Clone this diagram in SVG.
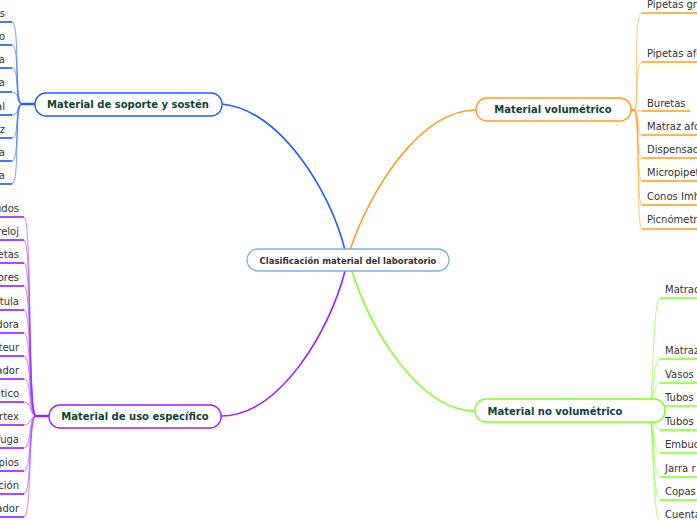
<svg xmlns="http://www.w3.org/2000/svg" width="697" height="520" viewBox="0 0 697 520">
<style>
text{font-family:"DejaVu Sans",Verdana,sans-serif;font-size:10px;fill:#333}
.t{font-weight:bold;fill:#0f4434;font-size:10px}
.n{fill:#fff;stroke-width:1.3}
.c{fill:none}
</style>
<rect width="697" height="520" fill="#fff"/>
<g id="connectors" class="c">
<path d="M345,250 C330,190 280,110 222,104" stroke="#1f5cff" stroke-width="1.6" fill="none"/>
<path d="M350,250 C370,190 420,110 476,110" stroke="#ff9c1a" stroke-width="1.6" fill="none"/>
<path d="M345,271 C330,330 280,416 221,416" stroke="#9b1fff" stroke-width="1.6" fill="none"/>
<path d="M352,271 C370,330 420,411 475,411" stroke="#7fff1f" stroke-width="1.6" fill="none"/>
<g stroke="#1f5cff" fill="none">
<path d="M35,104 H22" stroke-width="2.5"/>
<path d="M0,22 H12 C20,22 14,104 22,104 M0,45 H12 C20,45 14,104 22,104 M0,68 H12 C20,68 14,104 22,104 M0,92 H12 C20,92 16,104 22,104 M0,115 H12 C20,115 16,104 22,104 M0,138 H12 C20,138 14,104 22,104 M0,161 H12 C20,161 14,104 22,104 M0,184 H12 C20,184 14,104 22,104" stroke-opacity="0.6"/>
<path d="M0,22 H12 M0,45 H12 M0,68 H12 M0,92 H12 M0,115 H12 M0,138 H12 M0,161 H12 M0,184 H12" stroke-width="1.5"/>
</g>
<g stroke="#9b1fff" fill="none">
<path d="M49,416 H36" stroke-width="2.5"/>
<path d="M0,217 H24 C32,217 28,416 36,416 M0,240 H24 C32,240 28,416 36,416 M0,263 H24 C32,263 28,416 36,416 M0,286 H24 C32,286 28,416 36,416 M0,310 H24 C32,310 28,416 36,416 M0,333 H24 C32,333 28,416 36,416 M0,356 H24 C32,356 28,416 36,416 M0,379 H24 C32,379 28,416 36,416 M0,402 H24 C32,402 30,416 36,416 M0,425 H24 C32,425 30,416 36,416 M0,448 H24 C32,448 28,416 36,416 M0,471 H24 C32,471 28,416 36,416 M0,494 H24 C32,494 28,416 36,416 M0,517 H24 C32,517 28,416 36,416" stroke-opacity="0.55"/>
<path d="M0,217 H24 M0,240 H24 M0,263 H24 M0,286 H24 M0,310 H24 M0,333 H24 M0,356 H24 M0,379 H24 M0,402 H24 M0,425 H24 M0,448 H24 M0,471 H24 M0,494 H24 M0,517 H24" stroke-width="1.5"/>
</g>
<g stroke="#ff9c1a" fill="none">
<path d="M631,110 H634" stroke-width="2.5"/>
<path d="M634,110 C640,110 632,13 642,13 M634,110 C640,110 634,62 642,62 M634,110 C638,110 636,111 642,111 M634,110 C640,110 636,135 642,135 M634,110 C640,110 636,158 642,158 M634,110 C640,110 636,181 642,181 M634,110 C640,110 636,205 642,205 M634,110 C640,110 636,229 642,229" stroke-opacity="0.55"/>
<path d="M642,13 H697 M642,62 H697 M642,111 H690 M642,135 H697 M642,158 H697 M642,181 H697 M642,205 H697 M642,229 H697" stroke-width="1.5"/>
</g>
<g stroke="#7fff1f" fill="none">
<path d="M665,411 H648" stroke-width="2.5"/>
<path d="M648,411 C654,411 652,298 660,298 M648,411 C654,411 652,359 660,359 M648,411 C654,411 652,383 660,383 M648,411 C654,411 654,406 660,406 M648,411 C654,411 654,430 660,430 M648,411 C654,411 652,453 660,453 M648,411 C654,411 652,477 660,477 M648,411 C654,411 652,500 660,500 M648,411 C654,411 652,520 660,522" stroke-opacity="0.6"/>
<path d="M660,298 H697 M660,359 H697 M660,383 H697 M660,406 H697 M660,430 H697 M660,453 H697 M660,477 H697 M660,500 H697" stroke-width="1.5"/>
</g>
</g>
<g id="center"><rect class="n" x="247" y="249" width="202" height="22" rx="11" stroke="#7fb0e0" stroke-width="2"/><text x="348" y="264" text-anchor="middle" style="font-weight:bold;font-size:8.5px;fill:#333">Clasificación material del laboratorio</text></g>
<g id="soporte"><rect class="n" x="35" y="93" width="187" height="23" rx="11" stroke="#1f5cff"/><text class="t" x="128" y="108" text-anchor="middle">Material de soporte y sostén</text></g>
<g id="especifico"><rect class="n" x="49" y="405" width="172" height="23" rx="11" stroke="#9b1fff"/><text class="t" x="135" y="420" text-anchor="middle">Material de uso específico</text></g>
<g id="volumetrico"><rect class="n" x="476" y="98" width="155" height="23" rx="11" stroke="#ff9c1a"/><text class="t" x="553" y="113" text-anchor="middle">Material volumétrico</text></g>
<g id="novolumetrico"><rect class="n" x="475" y="399" width="190" height="23" rx="11" stroke="#7fff1f"/><text class="t" x="555" y="415" text-anchor="middle">Material no volumétrico</text></g>
<g id="soporte-leaves" text-anchor="end">
<text x="5" y="17">s</text><text x="5" y="40">o</text><text x="5" y="63">a</text><text x="5" y="86">a</text><text x="5" y="110">al</text><text x="5" y="133">z</text><text x="5" y="156">a</text><text x="5" y="179">a</text>
</g>
<g id="especifico-leaves" text-anchor="end">
<text x="19" y="212">udos</text><text x="19" y="235">reloj</text><text x="19" y="258">etas</text><text x="19" y="281">ores</text><text x="19" y="305">tula</text><text x="19" y="328">dora</text><text x="19" y="351">teur</text><text x="19" y="374">ador</text><text x="19" y="397">ético</text><text x="19" y="420">rtex</text><text x="19" y="443">fuga</text><text x="19" y="466">pios</text><text x="19" y="489">ción</text><text x="19" y="512">ador</text>
</g>
<g id="volumetrico-leaves">
<text x="647" y="8">Pipetas graduadas</text><text x="647" y="57">Pipetas aforadas</text><text x="647" y="107">Buretas</text><text x="647" y="130">Matraz aforado</text><text x="647" y="153">Dispensador</text><text x="647" y="176">Micropipetas</text><text x="647" y="200">Conos Imhoff</text><text x="647" y="223">Picnómetro</text>
</g>
<g id="novolumetrico-leaves">
<text x="665" y="293">Matraces</text><text x="665" y="354">Matraz</text><text x="665" y="378">Vasos</text><text x="665" y="401">Tubos</text><text x="665" y="425">Tubos</text><text x="665" y="448">Embudos</text><text x="665" y="472">Jarra r</text><text x="665" y="495">Copas</text><text x="665" y="518">Cuentagotas</text>
</g>
</svg>
